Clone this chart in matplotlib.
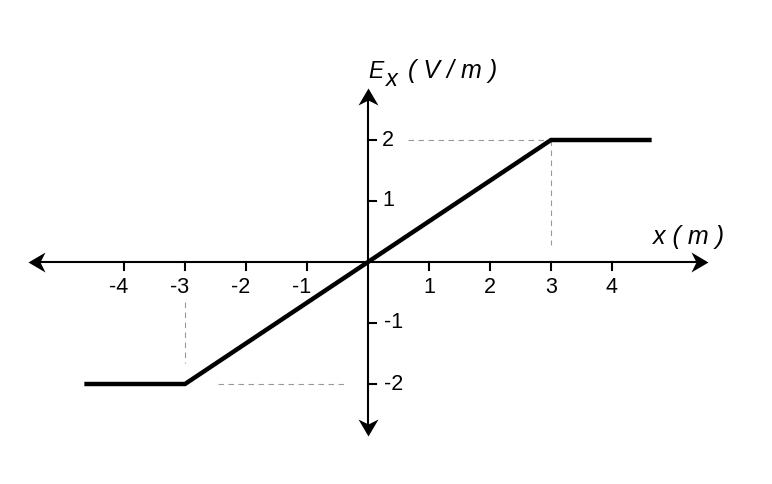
import matplotlib
matplotlib.use("Agg")
import matplotlib.pyplot as plt
import numpy as np
from matplotlib.path import Path

# Data
x_pts = [-4.65, -3, 3, 4.65]
e_pts = [-2, -2, 2, 2]
x_ticks = [-4, -3, -2, -1, 1, 2, 3, 4]
x_tick_labels = ["-4", "-3", "-2", "-1", "1", "2", "3", "4"]
y_ticks = [-2, -1, 1, 2]
y_tick_labels = ["-2", "-1", "1", "2"]

W, H = 772, 484
PX = 61.0          # pixels per unit
OX, OY = 368, 262  # origin in pixels

plt.rcParams['font.family'] = ['Liberation Sans', 'DejaVu Sans']
fig = plt.figure(figsize=(W / 100, H / 100), dpi=100)
ax = fig.add_axes([0, 0, 1, 1])
ax.set_xlim(-OX / PX, (W - OX) / PX)
ax.set_ylim(-(H - OY) / PX, OY / PX)
ax.axis('off')

u = 1 / PX  # one pixel in data units

# dashed guide lines
dash = dict(color='#999999', lw=0.8, ls=(0, (5, 4)))
ax.plot([0.65, 2.95], [2, 2], **dash)
ax.plot([3, 3], [2, 0.28], **dash)
ax.plot([-2.46, -0.33], [-2, -2], **dash)
ax.plot([-3, -3], [-0.65, -1.66], **dash)

# axes lines
ax.plot([-5.45, 5.45], [0, 0], color='black', lw=1.5)
ax.plot([0, 0], [-2.76, 2.76], color='black', lw=1.5)


def arrow_marker(angle_deg):
    base = np.array([[0, 0], [-17, 10], [-12, 0], [-17, -10], [0, 0]], float)
    a = np.deg2rad(angle_deg)
    R = np.array([[np.cos(a), -np.sin(a)], [np.sin(a), np.cos(a)]])
    v = base @ R.T
    return Path(v, [Path.MOVETO, Path.LINETO, Path.LINETO, Path.LINETO,
                    Path.CLOSEPOLY])


ms = 34 * 0.72  # points
for (tx, ty, ang) in [(5.57, 0, 0), (-5.57, 0, 180), (0, 2.86, 90),
                      (0, -2.86, 270)]:
    ax.plot([tx], [ty], marker=arrow_marker(ang), markersize=ms,
            color='black', markeredgewidth=0, linestyle='none')

# ticks
for t in x_ticks:
    ax.plot([t, t], [0, -8 * u], color='black', lw=1.5)
for t in y_ticks:
    ax.plot([0, 8 * u], [t, t], color='black', lw=1.5)

# main curve
ax.plot(x_pts, e_pts, color='black', lw=3.2, solid_joinstyle='miter',
        solid_capstyle='butt')

fs = 15.5
for t, lab in zip(x_ticks, x_tick_labels):
    ax.text(t - (5.5 * u if lab.startswith('-') else 0), -25.5 * u, lab,
            ha='center', va='center', fontsize=fs)
for t, lab in zip(y_ticks, y_tick_labels):
    ax.text((384 - OX) * u if lab.startswith('-') else (382 - OX) * u, t, lab,
            ha='left', va='center', fontsize=fs)

# axis labels
ax.text((368 - OX) * u, (OY - 78) * u, 'E', ha='left', va='baseline',
        fontsize=16.5, style='italic')
ax.text((386 - OX) * u, (OY - 86) * u, 'x', ha='left', va='baseline',
        fontsize=17, style='italic')
ax.text((408 - OX) * u, (OY - 78) * u, '( V / m )', ha='left', va='baseline',
        fontsize=18, style='italic')
ax.text((653 - OX) * u, (OY - 244) * u, 'x ( m )', ha='left', va='baseline',
        fontsize=18, style='italic')

fig.savefig('out.png', dpi=100)
